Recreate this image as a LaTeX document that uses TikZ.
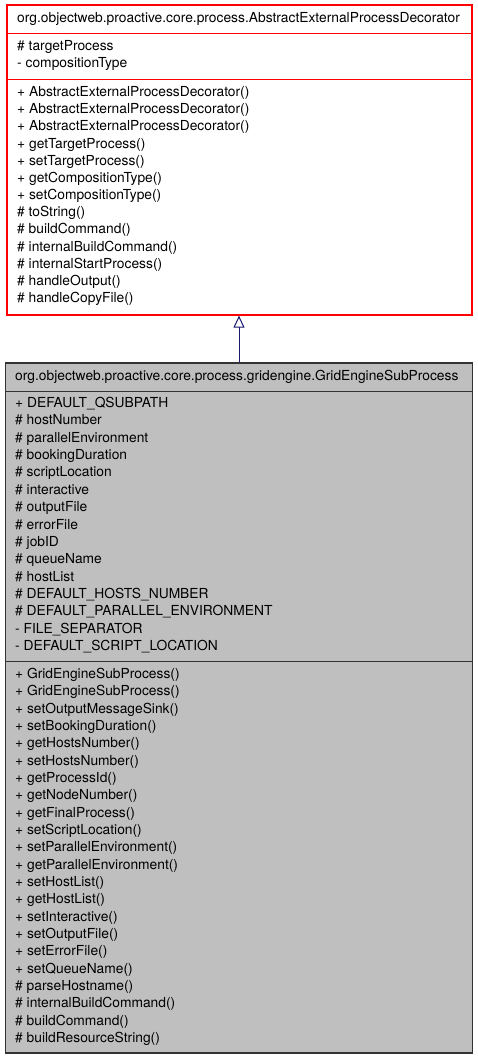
\documentclass[tikz,border=0pt]{standalone}
\usepackage{fontspec}
\setmainfont{TeX Gyre Heros}
\usetikzlibrary{arrows.meta}
\definecolor{umlnavy}{HTML}{191970}
\definecolor{umlgray}{HTML}{BFBFBF}

\begin{document}
\begin{tikzpicture}[x=1pt,y=-1pt,
    member/.style={anchor=west,inner sep=0pt,text height=9.9pt,text depth=2.9pt,font=\fontsize{13.8}{15}\selectfont},
    classbox/.style={inner sep=0pt,line width=1.2pt}]

        \useasboundingbox (0,0) rectangle (477,1058);

        % base class
        \node[classbox, draw=red, minimum width=465pt, minimum height=310pt] (base) at (239.5,160) {};
        \draw[red, line width=1pt] (base.west |- 0,33) -- (base.east |- 0,33);
        \draw[red, line width=1pt] (base.west |- 0,79) -- (base.east |- 0,79);
        \node[member] (basetitle) at (17,19) {org.objectweb.proactive.core.process.AbstractExternalProcessDecorator};

        \foreach \t [count=\i from 0] in {\# targetProcess, - compositionType}
            \node[member] (baseattr\i) at (17,{47+17*\i}) {\t};

        \foreach \t [count=\i from 0] in {+ AbstractExternalProcessDecorator(), + AbstractExternalProcessDecorator(),
            + AbstractExternalProcessDecorator(), + getTargetProcess(), + setTargetProcess(), + getCompositionType(),
            + setCompositionType(), \# toString(), \# buildCommand(), \# internalBuildCommand(),
            \# internalStartProcess(), \# handleOutput(), \# handleCopyFile()}
            \node[member] (baseop\i) at (17,{93+17.17*\i}) {\t};

        % derived class
        \node[classbox, draw=black!80, fill=umlgray, minimum width=467pt, minimum height=690pt] (sub) at (239,708) {};
        \draw[black!80, line width=1pt] (sub.west |- 0,391) -- (sub.east |- 0,391);
        \draw[black!80, line width=1pt] (sub.west |- 0,661) -- (sub.east |- 0,661);
        \node[member] (subtitle) at (15,377) {org.objectweb.proactive.core.process.gridengine.GridEngineSubProcess};

        \foreach \t [count=\i from 0] in {+ DEFAULT\_QSUBPATH, \# hostNumber, \# parallelEnvironment,
            \# bookingDuration, \# scriptLocation, \# interactive, \# outputFile, \# errorFile, \# jobID,
            \# queueName, \# hostList, \# DEFAULT\_HOSTS\_NUMBER, \# DEFAULT\_PARALLEL\_ENVIRONMENT,
            - FILE\_SEPARATOR, - DEFAULT\_SCRIPT\_LOCATION}
            \node[member] (subattr\i) at (15,{404+17.36*\i}) {\t};

        \foreach \t [count=\i from 0] in {+ GridEngineSubProcess(), + GridEngineSubProcess(),
            + setOutputMessageSink(), + setBookingDuration(), + getHostsNumber(), + setHostsNumber(),
            + getProcessId(), + getNodeNumber(), + getFinalProcess(), + setScriptLocation(),
            + setParallelEnvironment(), + getParallelEnvironment(), + setHostList(), + getHostList(),
            + setInteractive(), + setOutputFile(), + setErrorFile(), + setQueueName(),
            \# parseHostname(), \# internalBuildCommand(), \# buildCommand(), \# buildResourceString()}
            \node[member] (subop\i) at (15,{675+17.33*\i}) {\t};

        % generalisation
        \draw[umlnavy, line width=1pt, -{Triangle[open, length=12pt, width=11pt]}] (sub.north) -- (sub.north |- base.south);

    \end{tikzpicture}
\end{document}
